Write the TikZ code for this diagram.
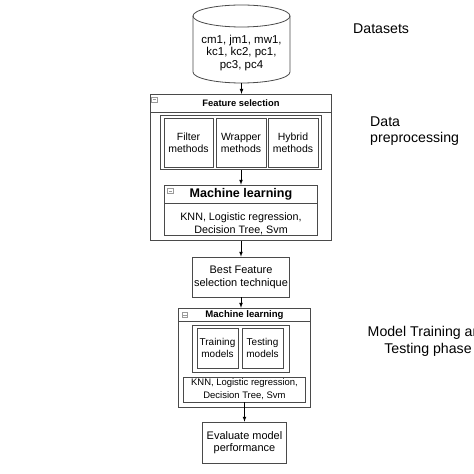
\documentclass[tikz,border=0pt]{standalone}
\usepackage{fontspec}
\setmainfont{Liberation Sans}
\usepackage{tikz}
\usetikzlibrary{positioning}
\usepackage{xcolor}
\definecolor{boxline}{HTML}{4A4A4A}
\definecolor{icongray}{HTML}{9A9A9A}

\begin{document}
\begin{tikzpicture}[x=1bp,y=-1bp,>=latex,
  box/.style={draw=boxline,line width=0.8bp,inner sep=0pt,align=center},
  txt/.style={inner sep=0pt,align=center},
  arr/.style={->,line width=0.7bp}]
  \useasboundingbox (0,0) rectangle (474,474);
  \clip (0,0) rectangle (474,474);
% datasets
  \draw[boxline,line width=0.8bp,fill=white] (193,16) -- (193,72) arc[start angle=180,end angle=0,x radius=48.5,y radius=11] -- (290,16);
  \draw[boxline,line width=0.8bp] (241.5,16) ellipse [x radius=48.5,y radius=11];
  \node[txt,font=\fontsize{11.5}{12.5}\selectfont] (data) at (241.5,53) {cm1, jm1, mw1,\\kc1, kc2, pc1,\\pc3, pc4};
  \coordinate (cylbot) at (241.5,83);
% feature selection
  \node[box,minimum width=182,minimum height=147] (fs) at (241,167.5) {};
  \draw[boxline,line width=0.8bp] (150,112) -- (332,112);
  \node[txt,font=\fontsize{9.4}{11}\selectfont\bfseries] (fstitle) at (241,103) {Feature selection};
  \draw[icongray,line width=0.5bp] (151.5,97) rectangle (157,102) (152.5,99.5) -- (156,99.5);
  \node[box,minimum width=162,minimum height=55] (meth) at (241,142.5) {};
  \node[box,minimum width=49,minimum height=49,font=\fontsize{10.5}{12}\selectfont] (filter) at (188.5,142.5) {Filter\\methods};
  \node[box,minimum width=50,minimum height=49,font=\fontsize{10.5}{12}\selectfont] (wrapper) at (241,142.5) {Wrapper\\methods};
  \node[box,minimum width=50,minimum height=49,font=\fontsize{10.5}{12}\selectfont] (hybrid) at (293,142.5) {Hybrid\\methods};
  \node[box,minimum width=154,minimum height=50] (ml) at (241,210) {};
  \draw[boxline,line width=0.8bp] (164,203) -- (318,203);
  \node[txt,font=\fontsize{12.6}{14}\selectfont\bfseries] (mltitle) at (241,194) {Machine learning};
  \draw[icongray,line width=0.5bp] (167.5,188.5) rectangle (173,193.5) (168.5,191) -- (172,191);
  \node[txt,font=\fontsize{10.8}{13}\selectfont] (mlalg) at (241,223.5) {KNN, Logistic regression,\\Decision Tree, Svm};
% best technique
  \node[box,minimum width=98,minimum height=40,font=\fontsize{11}{13}\selectfont] (best) at (241,277) {Best Feature\\selection technique};
% model training
  \node[box,minimum width=133,minimum height=100] (ml2) at (244.5,358) {};
  \draw[boxline,line width=0.8bp] (178,321) -- (311,321);
  \node[txt,font=\fontsize{9.6}{11}\selectfont\bfseries] (ml2title) at (244.5,315) {Machine learning};
  \draw[icongray,line width=0.5bp] (182,312.5) rectangle (187.5,317.5) (183,315) -- (186.5,315);
  \node[box,minimum width=98,minimum height=47] (tt) at (241,348.5) {};
  \node[box,minimum width=41,minimum height=40,font=\fontsize{10}{12}\selectfont] (train) at (217.5,348) {Training\\models};
  \node[box,minimum width=41,minimum height=40,font=\fontsize{10}{12}\selectfont] (test) at (262.5,348) {Testing\\models};
  \node[box,minimum width=123,minimum height=25,font=\fontsize{9.5}{13}\selectfont] (knn) at (244.5,389.5) {KNN, Logistic regression,\\Decision Tree, Svm};
  \node[box,minimum width=85,minimum height=41,font=\fontsize{11}{12.5}\selectfont] (eval) at (244.5,442.5) {Evaluate model\\performance};
% arrows
  \draw[arr] (cylbot) -- (fs.north -| cylbot);
  \draw[arr] (meth.south) -- (ml.north);
  \draw[arr] (fs.south) -- (best.north);
  \draw[arr] (best.south) -- (best.south |- ml2.north);
  \draw[arr] (knn.south) -- (eval.north);
% phases
  \node[txt,anchor=west,font=\fontsize{14.2}{16}\selectfont] (lbdata) at (353,29) {Datasets};
  \node[txt,anchor=west,align=left,font=\fontsize{14.2}{16}\selectfont] (lbprep) at (370,131) {Data\\preprocessing};
  \node[txt,font=\fontsize{14.2}{17}\selectfont] (lbtrain) at (428,341.5) {Model Training and\\Testing phase};
\end{tikzpicture}
\end{document}
